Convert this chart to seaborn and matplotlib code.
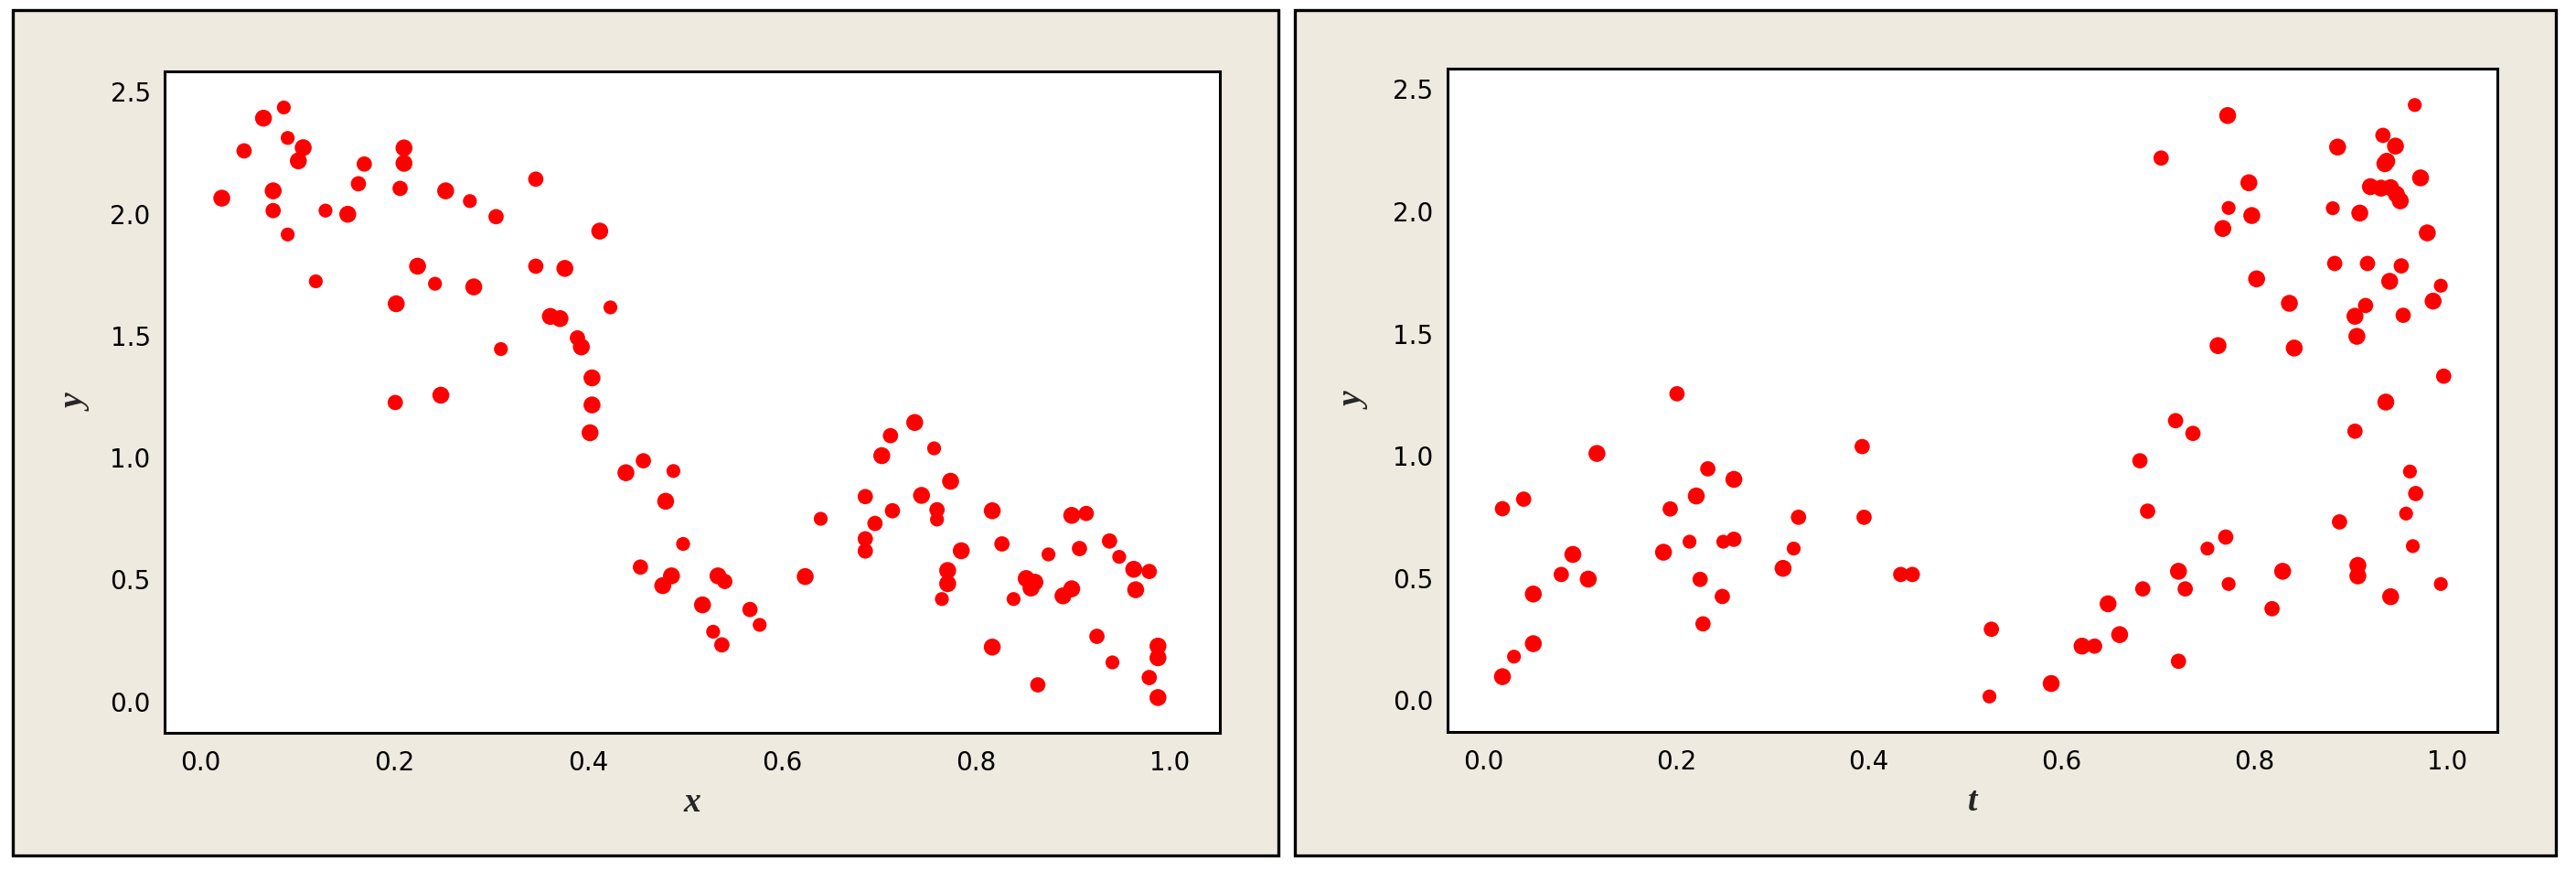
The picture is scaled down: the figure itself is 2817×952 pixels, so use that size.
import numpy as np
import pandas as pd
import matplotlib
matplotlib.use("Agg")
import matplotlib.pyplot as plt
from matplotlib.patches import Rectangle
import seaborn as sns

# left panel: y against x  (w = dot class, 1 small, 2 medium, 3 large)
x1 = [0.086, 0.065, 0.090, 0.045, 0.106, 0.101, 0.210, 0.210, 0.169, 0.163,
      0.206, 0.022, 0.075, 0.075, 0.129, 0.152, 0.090, 0.253, 0.278, 0.305,
      0.346, 0.412, 0.119, 0.224, 0.242, 0.282, 0.202, 0.346, 0.376, 0.423,
      0.361, 0.371, 0.389, 0.393, 0.310, 0.404, 0.404, 0.402, 0.201, 0.248,
      0.439, 0.457, 0.488, 0.480, 0.498, 0.454, 0.486, 0.477, 0.534, 0.541,
      0.518, 0.567, 0.577, 0.529, 0.538, 0.624, 0.640, 0.686, 0.686, 0.686,
      0.696, 0.714, 0.703, 0.712, 0.737, 0.757, 0.744, 0.774, 0.760, 0.760,
      0.785, 0.771, 0.771, 0.765, 0.817, 0.827, 0.817, 0.875, 0.852, 0.861,
      0.857, 0.839, 0.864, 0.899, 0.914, 0.907, 0.899, 0.890, 0.938, 0.948,
      0.963, 0.979, 0.965, 0.925, 0.941, 0.988, 0.988, 0.979, 0.988]
y1 = [2.432, 2.388, 2.307, 2.254, 2.267, 2.213, 2.266, 2.203, 2.200, 2.119,
      2.100, 2.060, 2.090, 2.009, 2.009, 1.994, 1.911, 2.090, 2.048, 1.984,
      2.138, 1.925, 1.719, 1.781, 1.709, 1.696, 1.627, 1.781, 1.772, 1.612,
      1.575, 1.566, 1.487, 1.450, 1.441, 1.323, 1.212, 1.098, 1.222, 1.252,
      0.934, 0.983, 0.941, 0.817, 0.642, 0.547, 0.511, 0.471, 0.511, 0.488,
      0.392, 0.373, 0.310, 0.282, 0.228, 0.508, 0.745, 0.836, 0.663, 0.613,
      0.726, 0.778, 1.004, 1.086, 1.140, 1.034, 0.841, 0.899, 0.782, 0.742,
      0.614, 0.533, 0.479, 0.416, 0.778, 0.642, 0.219, 0.599, 0.500, 0.485,
      0.461, 0.416, 0.064, 0.759, 0.767, 0.623, 0.458, 0.429, 0.654, 0.589,
      0.538, 0.529, 0.454, 0.263, 0.156, 0.223, 0.175, 0.094, 0.012]
w1 = [1, 3, 1, 2, 3, 3, 3, 3, 2, 2,
      2, 3, 3, 2, 1, 3, 1, 3, 1, 2,
      2, 3, 1, 3, 1, 3, 3, 2, 3, 1,
      3, 3, 2, 3, 1, 3, 3, 3, 2, 3,
      3, 2, 1, 3, 1, 2, 3, 3, 3, 2,
      3, 2, 1, 1, 2, 3, 1, 2, 2, 2,
      2, 2, 3, 2, 3, 1, 3, 3, 2, 1,
      3, 3, 3, 1, 3, 2, 3, 1, 3, 3,
      3, 1, 2, 3, 2, 2, 3, 3, 2, 1,
      3, 2, 3, 2, 1, 3, 3, 2, 3]

# right panel: y against t
t2 = [0.201, 0.118, 0.233, 0.260, 0.221, 0.042, 0.020, 0.194, 0.393, 0.327,
      0.395, 0.214, 0.249, 0.260, 0.187, 0.322, 0.311, 0.093, 0.081, 0.109,
      0.225, 0.248, 0.228, 0.052, 0.052, 0.032, 0.020, 0.433, 0.445, 0.527,
      0.525, 0.589, 0.621, 0.634, 0.660, 0.648, 0.684, 0.721, 0.728, 0.721,
      0.751, 0.770, 0.773, 0.689, 0.681, 0.718, 0.736, 0.818, 0.829, 0.904,
      0.936, 0.888, 0.907, 0.907, 0.941, 0.961, 0.967, 0.957, 0.964, 0.993,
      0.772, 0.703, 0.966, 0.886, 0.933, 0.946, 0.937, 0.935, 0.794, 0.972,
      0.920, 0.931, 0.941, 0.947, 0.951, 0.773, 0.797, 0.767, 0.881, 0.909,
      0.979, 0.883, 0.917, 0.952, 0.940, 0.993, 0.985, 0.802, 0.915, 0.904,
      0.954, 0.906, 0.836, 0.841, 0.762, 0.996]
y2 = [1.250, 1.006, 0.943, 0.900, 0.832, 0.819, 0.780, 0.779, 1.034, 0.745,
      0.745, 0.645, 0.645, 0.655, 0.602, 0.617, 0.536, 0.593, 0.511, 0.492,
      0.491, 0.421, 0.309, 0.431, 0.228, 0.175, 0.093, 0.511, 0.511, 0.287,
      0.012, 0.065, 0.218, 0.218, 0.265, 0.391, 0.452, 0.524, 0.452, 0.156,
      0.617, 0.664, 0.472, 0.770, 0.976, 1.140, 1.088, 0.371, 0.524, 1.097,
      1.216, 0.726, 0.548, 0.505, 0.420, 0.932, 0.842, 0.760, 0.627, 0.472,
      2.388, 2.214, 2.431, 2.259, 2.307, 2.263, 2.201, 2.191, 2.113, 2.133,
      2.097, 2.091, 2.093, 2.066, 2.039, 2.010, 1.979, 1.926, 2.009, 1.989,
      1.908, 1.783, 1.783, 1.773, 1.710, 1.692, 1.629, 1.720, 1.611, 1.567,
      1.571, 1.485, 1.620, 1.437, 1.447, 1.322]
w2 = [2, 3, 2, 3, 3, 2, 2, 2, 2, 2,
      2, 1, 1, 2, 3, 1, 3, 3, 2, 3,
      2, 2, 2, 3, 3, 1, 3, 2, 2, 2,
      1, 3, 3, 2, 3, 3, 2, 3, 2, 2,
      1, 2, 1, 2, 2, 2, 2, 2, 3, 2,
      3, 2, 3, 3, 3, 1, 2, 1, 1, 1,
      3, 2, 1, 3, 2, 3, 3, 3, 3, 3,
      3, 3, 3, 3, 3, 1, 3, 3, 1, 3,
      3, 2, 2, 2, 3, 1, 3, 3, 2, 3,
      2, 3, 3, 3, 3, 2]

xticks = [0.0, 0.2, 0.4, 0.6, 0.8, 1.0]
yticks = [0.0, 0.5, 1.0, 1.5, 2.0, 2.5]

sns.set_style("white")
plt.rcParams["font.family"] = ["DejaVu Sans"]

fig = plt.figure(figsize=(28.17, 9.53), dpi=100)
fig.patch.set_facecolor("white")

# beige frames behind each panel
for fx, fw in [(0.005, 0.4913), (0.5027, 0.4895)]:
    fig.patches.append(Rectangle((fx, 0.018), fw, 0.9696, transform=fig.transFigure,
                                 facecolor="#efeae0", edgecolor="black",
                                 linewidth=2.4, zorder=-10))

df1 = pd.DataFrame({"x": x1, "y": y1, "w": w1})
df2 = pd.DataFrame({"t": t2, "y": y2, "w": w2})

panels = [
    (df1, "x", [0.0639, 0.1584, 0.4097, 0.7587], -0.068),
    (df2, "t", [0.5619, 0.1595, 0.4077, 0.7608], -0.072),
]
dot_sizes = {1: 120, 2: 145, 3: 178}

for df, xcol, pos, ylab_x in panels:
    ax = fig.add_axes(pos)
    ax.set_zorder(1)
    ax.set_facecolor("white")
    sns.scatterplot(data=df, x=xcol, y="y", size="w", sizes=dot_sizes,
                    color="#ff0000", linewidth=0, legend=False, ax=ax, zorder=3)
    ax.set_xlim(-0.037, 1.052)
    ax.set_ylim(-0.133, 2.58)
    ax.set_xticks(xticks)
    ax.set_yticks(yticks)
    ax.set_xticklabels([f"{v:.1f}" for v in xticks])
    ax.set_yticklabels([f"{v:.1f}" for v in yticks])
    ax.tick_params(axis="both", direction="out", length=6, width=1.6,
                   labelsize=20, color="black", labelcolor="black")
    ax.tick_params(axis="x", pad=7)
    ax.tick_params(axis="y", pad=5)
    for sp in ax.spines.values():
        sp.set_visible(True)
        sp.set_color("black")
        sp.set_linewidth(2.2)
    ax.set_xlabel(xcol, family="Liberation Serif", style="italic",
                  weight="bold", fontsize=27)
    ax.set_ylabel("y", family="Liberation Serif", style="italic",
                  weight="bold", fontsize=27)
    ax.xaxis.set_label_coords(0.5, -0.08)
    ax.yaxis.set_label_coords(ylab_x, 0.5)

fig.savefig("out.png", dpi=100, facecolor=fig.get_facecolor())
